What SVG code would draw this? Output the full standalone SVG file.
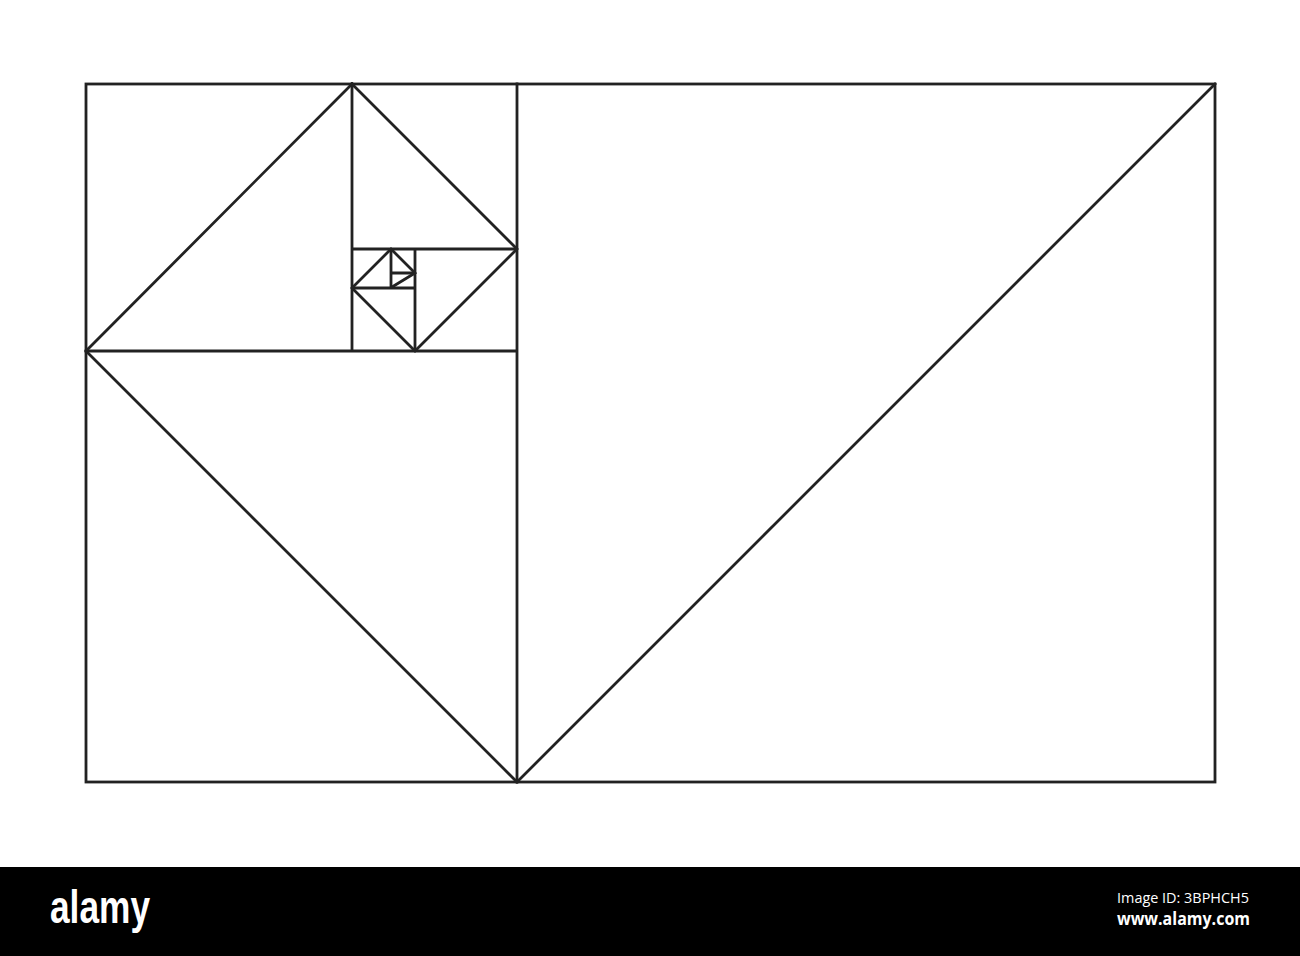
<svg xmlns="http://www.w3.org/2000/svg" width="1300" height="956" viewBox="0 0 1300 956">
<style>
.l{stroke:#222;stroke-width:2.8;fill:none;stroke-linecap:square}
.w{fill:#fff;font-family:"Open Sans","Noto Sans",sans-serif}
</style>
<rect width="1300" height="956" fill="#fff"/>
<g id="spiral">
<rect class="l" x="86" y="84" width="1129" height="698"/>
<path class="l" d="M517 84V782M86 351H517M352 84V351M352 249H517M415 249V351M352 288H415M391 249V288M391 273H415"/>
<path class="l" d="M517 782L1215 84M86 351L517 782M86 351L352 84M352 84L517 249M517 249L415 351M415 351L352 288M352 288L391 249M391 249L415 273M415 273L392 287"/>
</g>
<g id="footer">
<rect x="0" y="867" width="1300" height="89" fill="#000"/>
<text x="50" y="923" font-family="'Liberation Sans',sans-serif" font-weight="bold" font-size="46" fill="#fff" textLength="100" lengthAdjust="spacingAndGlyphs">alamy</text>
<text class="w" x="1249" y="903" font-size="15" text-anchor="end" textLength="132" lengthAdjust="spacingAndGlyphs">Image ID: 3BPHCH5</text>
<text class="w" x="1250" y="925" font-size="17" font-weight="bold" text-anchor="end" textLength="133" lengthAdjust="spacingAndGlyphs">www.alamy.com</text>
</g>
</svg>
